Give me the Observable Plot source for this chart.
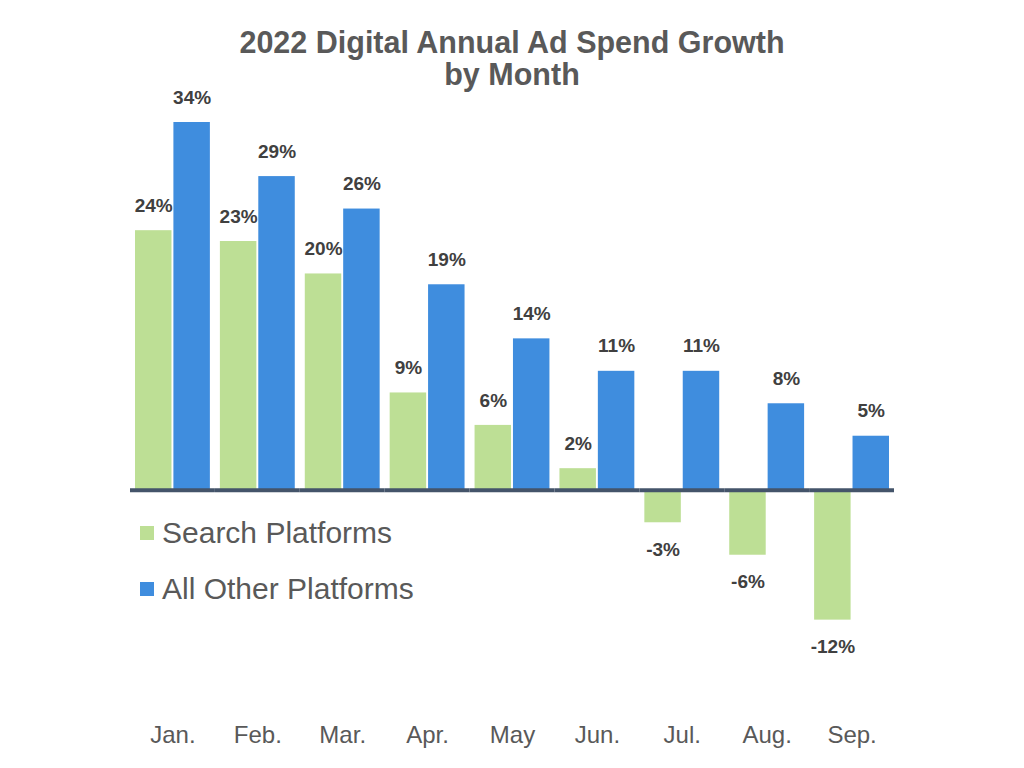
<!DOCTYPE html>
<html>
<head>
<meta charset="utf-8">
<script src="https://cdn.jsdelivr.net/npm/d3@7"></script>
<script src="https://cdn.jsdelivr.net/npm/@observablehq/plot@0.6"></script>
<style>
  html, body { margin: 0; padding: 0; background: #fff; }
  #wrap { position: relative; width: 1024px; height: 768px; font-family: "Liberation Sans", Arial, sans-serif; }
  #title { position: absolute; left: 0; top: 26px; width: 1024px; z-index: 1; text-align: center; font-weight: bold; font-size: 30.5px; line-height: 32px; color: #595959; }
  #legend { position: absolute; left: 140px; top: 512px; z-index: 1; color: #595959; font-size: 30px; }
  .item { display: flex; align-items: center; height: 42px; margin-bottom: 14px; }
  .sw { width: 14px; height: 14px; margin-right: 8px; }
</style>
</head>
<body>
<div id="wrap">
  <div id="title">2022 Digital Annual Ad Spend Growth<br>by Month</div>
  <div id="chart"></div>
  <div id="legend"></div>
</div>
<script>
// Year-over-year growth of digital ad spend, by month (percent)
const months = ["Jan.", "Feb.", "Mar.", "Apr.", "May", "Jun.", "Jul.", "Aug.", "Sep."];
const seriesNames = ["Search Platforms", "All Other Platforms"];
const searchGrowth = [24, 23, 20, 9, 6, 2, -3, -6, -12];
const otherGrowth = [34, 29, 26, 19, 14, 11, 11, 8, 5];
const seriesColors = ["#BDDF95", "#3F8DDE"];

const rows = months.flatMap((m, i) => [
  {month: m, series: seriesNames[0], value: searchGrowth[i]},
  {month: m, series: seriesNames[1], value: otherGrowth[i]}
]);

const labelStyle = {
  fx: "month", x: "series", y: "value",
  text: d => `${d.value}%`,
  fontSize: 19, fontWeight: "bold", fill: "#404040"
};

const chart = Plot.plot({
  width: 1024,
  height: 768,
  marginTop: 122,
  marginBottom: 51,
  marginLeft: 135,
  marginRight: 135,
  style: {fontFamily: "'Liberation Sans', Arial, sans-serif"},
  fx: {domain: months, paddingInner: 0.118, paddingOuter: 0, round: false, label: null},
  x: {domain: seriesNames, axis: null, paddingInner: 0.05, paddingOuter: 0, round: false},
  y: {domain: [-21, 34], axis: null},
  color: {domain: seriesNames, range: seriesColors},
  marks: [
    Plot.barY(rows, {fx: "month", x: "series", y: "value", fill: "series"}),
    Plot.text(rows.filter(d => d.value >= 0), {...labelStyle, dy: -25}),
    Plot.text(rows.filter(d => d.value < 0), {...labelStyle, dy: 27}),
    Plot.axisFx({anchor: "bottom", tickSize: 0, tickPadding: 8, fontSize: 24, color: "#595959", label: null}),
    // zero baseline, stretched past each month band so the pieces join up
    Plot.ruleY([0], {stroke: "#44546A", strokeWidth: 4, insetLeft: -5, insetRight: -5})
  ]
});
document.getElementById("chart").appendChild(chart);

// Legend drawn over the lower-left part of the plot area
const legend = document.getElementById("legend");
seriesNames.forEach((name, i) => {
  const item = document.createElement("div");
  item.className = "item";
  const sw = document.createElement("span");
  sw.className = "sw";
  sw.style.background = seriesColors[i];
  const label = document.createElement("span");
  label.textContent = name;
  item.append(sw, label);
  legend.appendChild(item);
});
</script>
</body>
</html>
